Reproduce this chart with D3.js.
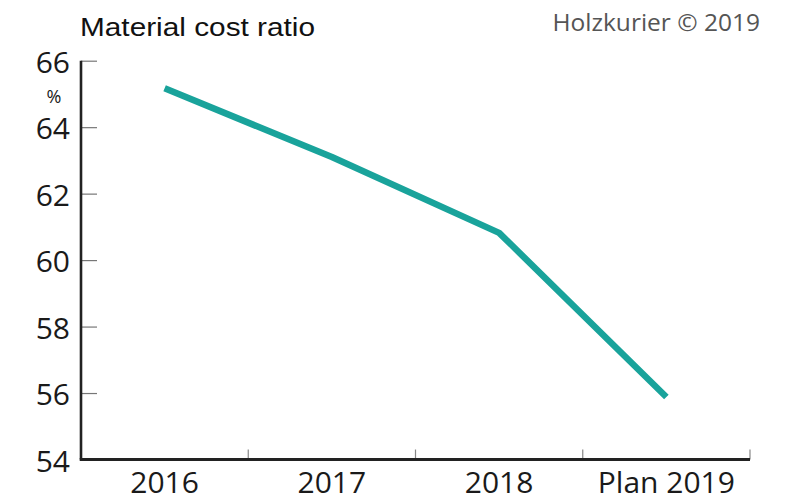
<!DOCTYPE html>
<html>
<head>
<meta charset="utf-8">
<script src="https://cdn.jsdelivr.net/npm/d3@7"></script>
<style>
  body { margin: 0; background: #fff; }
  svg { display: block; }
</style>
</head>
<body>
<div id="chart"></div>
<script>
const categories = ['2016', '2017', '2018', 'Plan 2019'];
const values = [65.17, 63.1, 60.82, 55.88];
const yTicks = [54, 56, 58, 60, 62, 64, 66];

const W = 789, H = 502;
const margin = {top: 60.7, right: 39, bottom: 42.5, left: 81};

const svg = d3.select('#chart').append('svg')
    .attr('width', W)
    .attr('height', H);

const x = d3.scaleBand()
    .domain(categories)
    .range([margin.left, W - margin.right])
    .padding(0);

const y = d3.scaleLinear()
    .domain([54, 66])
    .range([H - margin.bottom, margin.top]);

// y axis: ticks point inward, gray
const yAxis = svg.append('g')
    .attr('transform', 'translate(' + margin.left + ',0)')
    .call(d3.axisRight(y).tickValues(yTicks).tickSize(16).tickFormat(''));
yAxis.select('.domain').remove();
yAxis.selectAll('line').attr('stroke', '#777').attr('stroke-width', 1.2);

svg.append('line')
    .attr('x1', margin.left).attr('x2', margin.left)
    .attr('y1', y(66)).attr('y2', y(54))
    .attr('stroke', '#222').attr('stroke-width', 2.6);

svg.selectAll('.ylab')
    .data(yTicks)
    .enter().append('text')
    .attr('class', 'ylab')
    .attr('x', 70)
    .attr('y', d => y(d))
    .attr('dy', '0.4em')
    .attr('text-anchor', 'end')
    .attr('font-family', 'Open Sans')
    .attr('font-size', 30)
    .attr('fill', '#1a1a1a')
    .text(d => d);

// x axis: band boundary ticks pointing up
const xBounds = categories.map(c => x(c)).concat([x.range()[1]]);
svg.selectAll('.xtick')
    .data(xBounds.slice(1))
    .enter().append('line')
    .attr('class', 'xtick')
    .attr('x1', d => d).attr('x2', d => d)
    .attr('y1', y(54)).attr('y2', y(54) - 10)
    .attr('stroke', '#888').attr('stroke-width', 1.2);

svg.append('line')
    .attr('x1', margin.left - 1.3).attr('x2', x.range()[1])
    .attr('y1', y(54)).attr('y2', y(54))
    .attr('stroke', '#222').attr('stroke-width', 3);

svg.selectAll('.xlab')
    .data(categories)
    .enter().append('text')
    .attr('class', 'xlab')
    .attr('x', d => x(d) + x.bandwidth() / 2)
    .attr('y', 493)
    .attr('text-anchor', 'middle')
    .attr('font-family', 'Open Sans')
    .attr('font-size', 30)
    .attr('fill', '#1a1a1a')
    .text(d => d);

// line
const line = d3.line()
    .x((d, i) => x(categories[i]) + x.bandwidth() / 2)
    .y(d => y(d));

svg.append('path')
    .datum(values)
    .attr('d', line)
    .attr('fill', 'none')
    .attr('stroke', '#19a39b')
    .attr('stroke-width', 6.5)
    .attr('stroke-linejoin', 'round');

// titles
svg.append('text')
    .attr('x', 80).attr('y', 35.7)
    .attr('font-family', 'Liberation Sans, Arial')
    .attr('font-size', 26.5)
    .attr('textLength', 235)
    .attr('lengthAdjust', 'spacingAndGlyphs')
    .attr('fill', '#111')
    .text('Material cost ratio');

svg.append('text')
    .attr('x', 760).attr('y', 30.7)
    .attr('text-anchor', 'end')
    .attr('font-family', 'Open Sans')
    .attr('font-size', 24.5)
    .attr('fill', '#555')
    .text('Holzkurier © 2019');

svg.append('text')
    .attr('x', 54).attr('y', 103)
    .attr('text-anchor', 'middle')
    .attr('font-family', 'Open Sans')
    .attr('font-size', 18)
    .attr('fill', '#1a1a1a')
    .text('%');
</script>
</body>
</html>
